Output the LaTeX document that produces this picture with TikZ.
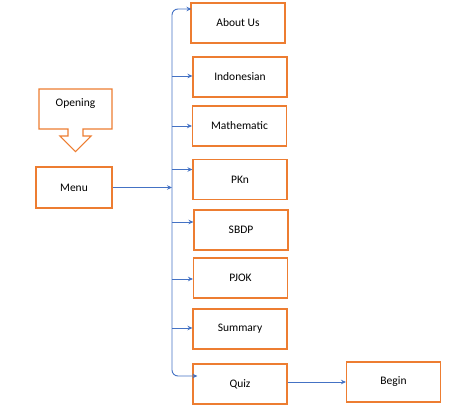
\documentclass[tikz,border=0pt]{standalone}
\usepackage{fontspec}
\setmainfont{Carlito}
\usetikzlibrary{calc,arrows.meta,shapes.arrows}
\definecolor{boxorange}{RGB}{237,125,49}
\definecolor{linkblue}{RGB}{68,114,196}
\tikzset{
  menubox/.style={draw=boxorange,line width=1.1pt,minimum width=94pt,minimum height=40pt,
    inner sep=0pt,font=\fontsize{11.5}{13}\selectfont},
  link/.style={draw=linkblue,line width=0.9pt},
  branch/.style={link,-{Stealth[length=5pt,width=4.5pt]}}
}
\begin{document}
\begin{tikzpicture}[x=1pt,y=-1pt]
\useasboundingbox (0,0) rectangle (474,414);
\node[menubox,minimum width=73pt,arrow box,arrow box arrows={south:22pt},
  arrow box shaft width=15pt,arrow box head extend=8pt,arrow box head indent=0pt]
  (opening) at (75.5,109) {};
\node[font=\fontsize{11.5}{13}\selectfont] (openingtext) at (75.5,104) {Opening};
\node[menubox,minimum width=76pt,minimum height=41pt] (menu) at (74,187.5) {Menu};
\node[menubox] (about) at (238,23) {About Us};
\node[menubox] (indo) at (240,77) {Indonesian};
\node[menubox] (math) at (239.5,126) {Mathematic};
\node[menubox] (pkn) at (240,179.5) {PKn};
\node[menubox] (sbdp) at (241,230) {SBDP};
\node[menubox] (pjok) at (240.5,278) {PJOK};
\node[menubox] (summ) at (240,329) {Summary};
\node[menubox] (quiz) at (240,384) {Quiz};
\node[menubox] (begin) at (393.5,382) {Begin};
% blue bus on the left of the menu items
\coordinate (bus) at (172,0);
\path ($(about.west)+(1,-14)$) coordinate (atop) ($(quiz.west)+(5,-8)$) coordinate (qbot);
\draw[link,{Stealth[length=5pt,width=4.5pt]}-{Stealth[length=5pt,width=4.5pt]},rounded corners=6pt]
  (atop) -- (atop -| bus) -- (qbot -| bus) -- (qbot);
\draw[branch] (menu.east) -- (menu.east -| bus);
\foreach \n/\dy in {indo/-1,math/0,pkn/-10,sbdp/-8,pjok/1,summ/-1}{
  \path ($(\n.west)+(0,\dy)$) coordinate (tip);
  \draw[branch] (bus |- tip) -- (tip);
}
\draw[branch] (begin.west -| quiz.east) -- (begin.west);
\end{tikzpicture}
\end{document}
